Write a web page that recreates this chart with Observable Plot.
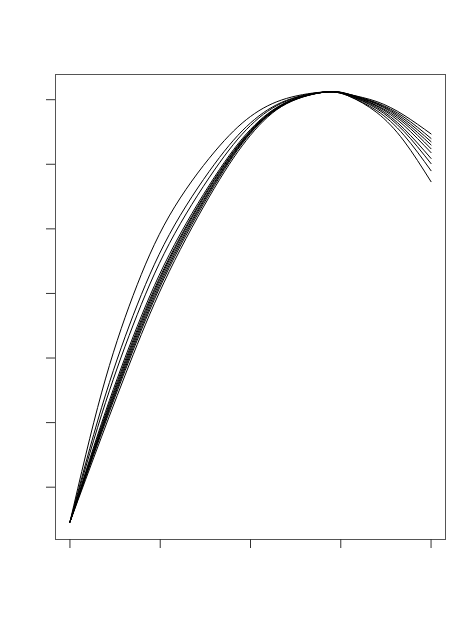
<!DOCTYPE html>
<html>
<head>
<meta charset="utf-8">
<script src="https://cdn.jsdelivr.net/npm/d3@7"></script>
<script src="https://cdn.jsdelivr.net/npm/@observablehq/plot@0.6"></script>
<style>
  html, body { margin: 0; padding: 0; background: #fff; }
  #chart { width: 474px; height: 632px; }
</style>
</head>
<body>
<div id="chart"></div>
<script>
// x positions shared by all curves
const xs = [0, 0.35, 0.7, 1.1, 1.6, 2.0, 2.4, 2.84, 3.1, 3.4, 3.7, 4.0];

// y values of each curve
const curve1  = [-0.54, 1.46, 2.97, 4.20, 5.19, 5.74, 6.02, 6.12, 6.05, 5.80, 5.36, 4.73];
const curve2  = [-0.54, 1.23, 2.66, 3.91, 5.00, 5.64, 5.99, 6.12, 6.06, 5.88, 5.55, 5.09];
const curve3  = [-0.54, 1.12, 2.51, 3.77, 4.91, 5.60, 5.98, 6.12, 6.05, 5.83, 5.45, 4.90];
const curve4  = [-0.54, 0.99, 2.33, 3.60, 4.80, 5.54, 5.96, 6.12, 6.08, 5.97, 5.76, 5.47];
const curve5  = [-0.54, 0.95, 2.28, 3.55, 4.77, 5.52, 5.96, 6.12, 6.07, 5.93, 5.67, 5.30];
const curve6  = [-0.54, 0.92, 2.24, 3.52, 4.75, 5.51, 5.95, 6.12, 6.08, 5.95, 5.73, 5.40];
const curve7  = [-0.54, 0.89, 2.20, 3.48, 4.72, 5.50, 5.95, 6.12, 6.06, 5.86, 5.51, 5.01];
const curve8  = [-0.54, 0.87, 2.16, 3.44, 4.70, 5.49, 5.95, 6.12, 6.07, 5.91, 5.64, 5.24];
const curve9  = [-0.54, 0.84, 2.12, 3.40, 4.67, 5.48, 5.94, 6.12, 6.08, 5.94, 5.70, 5.35];
const curve10 = [-0.54, 0.78, 2.05, 3.34, 4.63, 5.45, 5.94, 6.12, 6.07, 5.90, 5.60, 5.18];

const curves = [curve1, curve2, curve3, curve4, curve5, curve6, curve7, curve8, curve9, curve10];

// tick positions (no labels in the original)
const xTicks = [0, 1, 2, 3, 4];
const yTicks = [0, 1, 2, 3, 4, 5, 6];

const rows = [];
curves.forEach((ys, i) => {
  ys.forEach((y, j) => rows.push({ id: i, x: xs[j], y }));
});

const chart = Plot.plot({
  width: 474,
  height: 632,
  marginLeft: 55,
  marginRight: 29,
  marginTop: 74,
  marginBottom: 93,
  style: { background: "#fff" },
  x: { domain: [-0.16, 4.16], label: null },
  y: { domain: [-0.81, 6.39], label: null },
  marks: [
    Plot.frame({ stroke: "#555", strokeWidth: 1 }),
    Plot.axisX({ ticks: xTicks, tickFormat: () => "", tickSize: 9, stroke: "#333", label: null }),
    Plot.axisY({ ticks: yTicks, tickFormat: () => "", tickSize: 9, stroke: "#333", label: null }),
    Plot.line(rows, { x: "x", y: "y", z: "id", stroke: "#000", strokeWidth: 1, curve: "natural" })
  ]
});

document.getElementById("chart").appendChild(chart);
</script>
</body>
</html>
